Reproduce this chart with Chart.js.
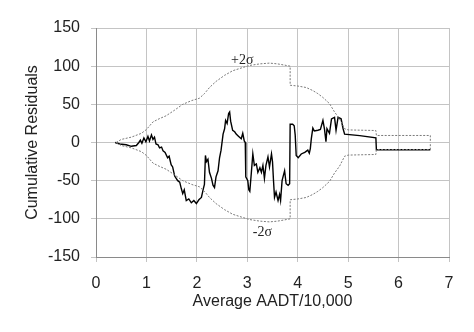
<!DOCTYPE html>
<html>
<head>
<meta charset="utf-8">
<script src="https://cdn.jsdelivr.net/npm/chart.js@4"></script>
<style>
  html, body { margin: 0; padding: 0; background: #fff; }
  #wrap { width: 474px; height: 332px; }
</style>
</head>
<body>
<div id="wrap"><canvas id="chart" width="474" height="332"></canvas></div>
<script>
// Cumulative residuals vs average AADT (x in units of 10,000 veh/day)
const RESID_X = [
  0.38, 0.47, 0.60, 0.70, 0.80, 0.85, 0.88, 0.91, 0.95, 0.99, 1.03, 1.06, 1.10, 1.13, 1.16,
  1.19, 1.23, 1.26, 1.30, 1.33, 1.37, 1.42, 1.45, 1.49, 1.52, 1.56, 1.59, 1.62, 1.66, 1.69,
  1.72, 1.75, 1.79, 1.84, 1.89, 1.94, 1.99, 2.04, 2.09, 2.13, 2.15, 2.17, 2.19, 2.22, 2.25,
  2.29, 2.32, 2.35, 2.38, 2.42, 2.45, 2.48, 2.52, 2.55, 2.57, 2.60, 2.63, 2.65, 2.67, 2.71,
  2.75, 2.78, 2.83, 2.88, 2.91, 2.94, 2.96, 2.97, 3.01, 3.03, 3.05, 3.08, 3.11, 3.14, 3.18,
  3.21, 3.25, 3.28, 3.31, 3.34, 3.37, 3.41, 3.44, 3.48, 3.50, 3.52, 3.54, 3.57, 3.61, 3.64,
  3.66, 3.69, 3.72, 3.74, 3.77, 3.81, 3.84, 3.85, 3.90, 3.93, 3.95, 3.97, 4.01, 4.07, 4.14,
  4.20, 4.23, 4.25, 4.27, 4.30, 4.33, 4.40, 4.45, 4.50, 4.53, 4.56, 4.58, 4.63, 4.67, 4.73,
  4.76, 4.80, 4.86, 4.90, 4.93, 5.23, 5.55, 5.56, 6.63
];
const RESID_Y = [
  0, -2, -3, -5, -4, 0, 3, -1, 6, 1, 8, 2, 10, 4, 7,
  -2, -3, -7, -6, -11, -13, -20, -18, -29, -32, -44, -47, -50, -52, -60,
  -67, -62, -76, -74, -79, -76, -80, -75, -72, -60, -55, -17, -25, -22, -39,
  -47, -56, -59, -45, -37, -20, -10, 11, 18, 29, 25, 38, 40, 28, 16,
  14, 11, 8, 5, 12, 2, 0, -45, -50, -62, -64, -40, -15, -30, -28,
  -39, -33, -39, -30, -47, -30, -19, -32, -15, -25, -50, -72, -65, -76, -68,
  -76, -50, -42, -37, -54, -56, -54, 24, 24, 22, 10, -17, -20, -15, -13,
  -10, -14, -8, 5, 19, 15, 16, 17, 29, 18, 1, 18, 12, 31, 33,
  16, 33, 31, 18, 11, 9, 6, -9.5, -9.5
];

// 2-sigma band half-width (drawn as +2σ and -2σ)
const BAND_X = [
  0.40, 0.50, 0.70, 0.90, 1.00, 1.13, 1.25, 1.39, 1.55, 1.72, 1.90, 2.05, 2.15, 2.25, 2.38,
  2.55, 2.71, 2.90, 3.05, 3.25, 3.44, 3.60, 3.77, 3.85, 3.85, 4.00, 4.17, 4.30, 4.40, 4.50,
  4.63, 4.73, 4.83, 4.93, 5.00, 5.55, 5.56, 6.63, 6.63
];
const BAND_SIGMA = [
  0, 4, 7, 12, 17, 27, 31, 35, 42, 50, 55, 58, 64, 72, 80,
  88, 94, 98, 101, 103, 104, 103, 101, 100, 75, 74, 72, 68, 64, 59,
  51, 40, 31, 18, 16.5, 15.7, 9.2, 9.2, 0
];

const X_TICKS = [0, 1, 2, 3, 4, 5, 6, 7];
const Y_TICKS = [-150, -100, -50, 0, 50, 100, 150];
const BAND_LABELS = [
  { text: '+2\u03c3', x: 2.9, y: 107 },
  { text: '-2\u03c3', x: 3.3, y: -118 },
];

const toPoints = (xs, ys) => xs.map((x, i) => ({ x, y: ys[i] }));

const GRID = '#c4c4c4';
const AXIS = '#8a8a8a';
const TEXT = '#222';
const FONT = 'Liberation Sans, Arial, sans-serif';

// writes the +2σ / -2σ tags in data coordinates
const bandLabels = {
  id: 'bandLabels',
  afterDatasetsDraw(chart) {
    const { ctx, scales: { x, y } } = chart;
    ctx.save();
    ctx.font = '14px "Liberation Serif", "Times New Roman", serif';
    ctx.fillStyle = TEXT;
    ctx.textAlign = 'center';
    ctx.textBaseline = 'middle';
    for (const l of BAND_LABELS) {
      ctx.fillText(l.text, x.getPixelForValue(l.x), y.getPixelForValue(l.y));
    }
    ctx.restore();
  },
};

new Chart(document.getElementById('chart'), {
  type: 'scatter',
  data: {
    datasets: [
      {
        label: '+2σ',
        data: toPoints(BAND_X, BAND_SIGMA),
        showLine: true,
        borderColor: '#7a7a7a',
        borderWidth: 1,
        borderDash: [2, 1.5],
        pointRadius: 0,
      },
      {
        label: '-2σ',
        data: toPoints(BAND_X, BAND_SIGMA.map((v) => -v)),
        showLine: true,
        borderColor: '#7a7a7a',
        borderWidth: 1,
        borderDash: [2, 1.5],
        pointRadius: 0,
      },
      {
        label: 'Cumulative residuals',
        data: toPoints(RESID_X, RESID_Y),
        showLine: true,
        borderColor: '#000',
        borderWidth: 1.4,
        pointRadius: 0,
      },
    ],
  },
  options: {
    responsive: false,
    animation: false,
    layout: { padding: { left: 0, right: 25, top: 28, bottom: 0 } },
    plugins: { legend: { display: false }, tooltip: { enabled: false } },
    scales: {
      x: {
        type: 'linear',
        min: 0,
        max: 7,
        afterBuildTicks: (s) => { s.ticks = X_TICKS.map((value) => ({ value })); },
        afterFit: (s) => { s.height = 75; },
        grid: { color: GRID, tickLength: 5, tickColor: GRID },
        border: { color: AXIS },
        ticks: { color: TEXT, font: { family: FONT, size: 16 }, padding: 12 },
        title: {
          display: true,
          text: 'Average AADT/10,000',
          color: TEXT,
          font: { family: FONT, size: 16 },
          padding: { top: 0, bottom: 21 },
        },
      },
      y: {
        type: 'linear',
        min: -150,
        max: 150,
        afterBuildTicks: (s) => { s.ticks = Y_TICKS.map((value) => ({ value })); },
        afterFit: (s) => { s.width = 96; },
        grid: { color: GRID, tickLength: 5, tickColor: GRID },
        border: { color: AXIS },
        ticks: { color: TEXT, font: { family: FONT, size: 16 }, padding: 11 },
        title: {
          display: true,
          text: 'Cumulative Residuals',
          color: TEXT,
          font: { family: FONT, size: 16 },
          padding: { top: 23, bottom: 0 },
        },
      },
    },
  },
  plugins: [bandLabels],
});
</script>
</body>
</html>
